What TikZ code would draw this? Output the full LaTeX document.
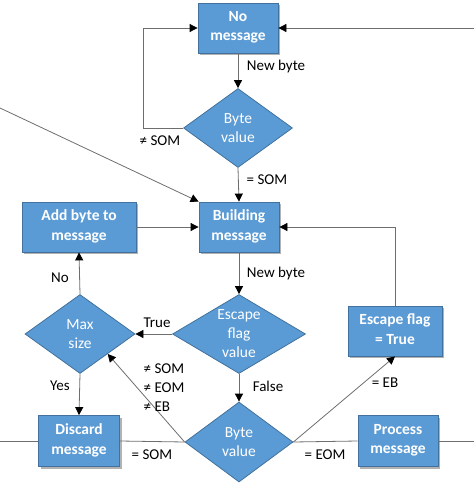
\documentclass[tikz,border=0pt]{standalone}
\usepackage{fontspec}
\setmainfont{Carlito}
\usetikzlibrary{shapes.geometric,arrows.meta,shadows}
\definecolor{fillb}{HTML}{5B9BD5}
\definecolor{edgeb}{HTML}{41719C}
\definecolor{linec}{HTML}{6E6E6E}
\tikzset{
  box/.style={rectangle, draw=edgeb, fill=fillb, line width=0.8pt, text=white,
    font=\fontsize{15.5}{19.5}\selectfont\bfseries, align=center, inner sep=0pt,
    minimum width=80pt, minimum height=50pt,
    execute at begin node={\rule{0pt}{15pt}},
    execute at end node={\rule[-4pt]{0pt}{4pt}},
    drop shadow={shadow xshift=2pt, shadow yshift=-2pt, opacity=0.3, fill=black}},
  dia/.style={diamond, draw=edgeb, fill=fillb, line width=0.8pt, inner sep=0pt, aspect=1},
  dtext/.style={text=white, font=\fontsize{15.5}{19}\selectfont, align=center, inner sep=0pt},
  conn/.style={draw=linec, line width=0.8pt, -{Triangle[length=8pt,width=8pt,black]}},
  plain/.style={draw=linec, line width=0.8pt},
  lbl/.style={font=\fontsize{15}{19}\selectfont, inner sep=0pt, align=left},
}
\begin{document}
\begin{tikzpicture}[x=1pt,y=-1pt]
\useasboundingbox (0,0) rectangle (474,483);
% nodes
\node[box] (nomsg) at (238,28) {No\\message};
\node[dia, minimum width=109pt, minimum height=79pt] (b1) at (238,128) {};
\node[dtext] (b1t) at (b1) {Byte\\value};
\node[box] (build) at (239,227) {Building\\message};
\node[box, minimum width=114pt] (addb) at (79,227) {Add byte to\\message};
\node[dia, minimum width=133pt, minimum height=79pt] (esc) at (239,334) {};
\node[dtext] (esct) at (esc) {Escape\\flag\\value};
\node[dia, minimum width=110pt, minimum height=79pt] (maxs) at (80,334) {};
\node[dtext] (maxst) at (maxs) {Max\\size};
\node[box, minimum width=81pt, minimum height=51pt] (discard) at (79,441) {Discard\\message};
\node[dia, minimum width=108pt, minimum height=80pt] (b2) at (239,442) {};
\node[dtext] (b2t) at (b2) {Byte\\value};
\node[box, minimum height=51pt] (proc) at (398,441) {Process\\message};
\node[box, minimum width=94pt] (escT) at (395,331) {Escape flag\\= True};
% free ends
\coordinate (loopL) at (143,128);
\coordinate (rin) at (474,28);
\coordinate (din) at (0,108);
\coordinate (hl) at (0,441);
\coordinate (hr) at (474,441);
% connectors
\draw[conn] (nomsg.south) -- (b1.north);
\draw[conn] (b1.west) -- (loopL) |- (nomsg.west);
\draw[conn] (rin) -- (nomsg.east);
\draw[conn] (b1.south) -- (build.north);
\draw[conn] (din) -- (build.north west);
\draw[conn] (addb.east) -- (build.west);
\draw[conn] (build.south) -- (esc.north);
\draw[conn] (esc.west) -- (maxs.east);
\draw[conn] (maxs.north) -- (addb.south);
\draw[conn] (maxs.south) -- (discard.north);
\draw[conn] (esc.south) -- (b2.north);
\draw[conn] (b2.west) -- (maxs.south east);
\draw[conn] (b2.east) -- (escT.south);
\draw[conn] (escT.north) |- (build.east);
\draw[plain] (hl) -- (discard.west);
\draw[plain] (discard.east) -- (b2.west);
\draw[plain] (b2.east) -- (proc.west);
\draw[plain] (proc.east) -- (hr);
% labels
\node[lbl] (l1) at (276,66) {New byte};
\node[lbl] (l2) at (160,141) {≠ SOM};
\node[lbl] (l3) at (267,180) {= SOM};
\node[lbl] (l4) at (276,273) {New byte};
\node[lbl] (l5) at (157,323) {True};
\node[lbl] (l6) at (60,278) {No};
\node[lbl] (l7) at (60,386) {Yes};
\node[lbl] (l8) at (268,386) {False};
\node[lbl] (l9) at (164,388) {≠ SOM\\≠ EOM\\≠ EB};
\node[lbl] (l10) at (385,383) {= EB};
\node[lbl] (l11) at (152,455) {= SOM};
\node[lbl] (l12) at (325,455) {= EOM};
\end{tikzpicture}
\end{document}
